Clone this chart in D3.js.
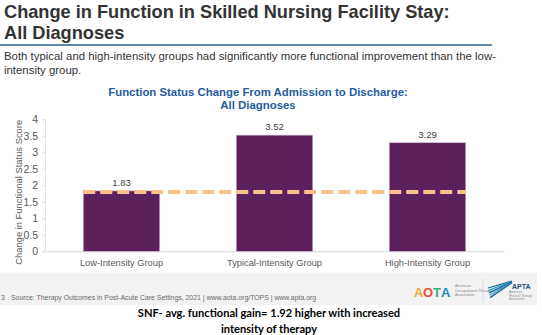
<!DOCTYPE html>
<html><head><meta charset="utf-8">
<script src="https://cdn.jsdelivr.net/npm/d3@7"></script>
<style>
html,body{margin:0;padding:0;background:#fff;}
svg{display:block;}
</style></head>
<body>
<script>
const categories = ["Low-Intensity Group", "Typical-Intensity Group", "High-Intensity Group"];
const values = [1.83, 3.52, 3.29];
const valueLabels = ["1.83", "3.52", "3.29"];
const referenceLine = [1.8];
const yTicks = [0, 0.5, 1, 1.5, 2, 2.5, 3, 3.5, 4];
const yTickLabels = ["0", "0.5", "1", "1.5", "2", "2.5", "3", "3.5", "4"];
const titleLines = ["Change in Function in Skilled Nursing Facility Stay:", "All Diagnoses"];
const subtitleLines = ["Both typical and high-intensity groups had significantly more functional improvement than the low-", "intensity group."];
const chartTitleLines = ["Function Status Change From Admission to Discharge:", "All Diagnoses"];
const yAxisTitle = "Change in Functional Status Score";
const sourceText = "Source: Therapy Outcomes in Post-Acute Care Settings, 2021 | www.aota.org/TOPS | www.apta.org";
const slideNumber = "3";
const captionLines = ["SNF- avg. functional gain= 1.92 higher with increased", "intensity of therapy"];

const W = 542, H = 335;
const svg = d3.select("body").append("svg").attr("width", W).attr("height", H);
const font = "'Liberation Sans', Arial, sans-serif";

// Title
svg.append("g").selectAll("text").data(titleLines).join("text")
  .attr("x", 4).attr("y", (d, i) => 18 + i * 21)
  .attr("font-family", font).attr("font-weight", "bold").attr("font-size", 18.2)
  .attr("fill", "#333333").text(d => d);
svg.append("line").attr("x1", 0).attr("x2", 492).attr("y1", 45).attr("y2", 45)
  .attr("stroke", "#2c5f92").attr("stroke-width", 1.6);
svg.append("g").selectAll("text").data(subtitleLines).join("text")
  .attr("x", 4).attr("y", (d, i) => 60 + i * 13.5)
  .attr("font-family", font).attr("font-size", 11.4)
  .attr("fill", "#333333").text(d => d);

// Chart title
svg.append("g").selectAll("text").data(chartTitleLines).join("text")
  .attr("x", 258).attr("y", (d, i) => 96 + i * 13)
  .attr("text-anchor", "middle")
  .attr("font-family", font).attr("font-weight", "bold").attr("font-size", 11.4)
  .attr("fill", "#1f5c9c").text(d => d);

// Scales
const x = d3.scaleBand().domain(categories).range([45, 504]).paddingInner(0.5).paddingOuter(0.25);
const y = d3.scaleLinear().domain([0, 4]).range([251.3, 119.3]);

// Axes
const yAxis = d3.axisLeft(y).tickValues(yTicks).tickFormat((d, i) => yTickLabels[i]).tickSize(3).tickPadding(4);
const gy = svg.append("g").attr("transform", "translate(45,0)").call(yAxis);
gy.select(".domain").attr("stroke", "#e3e3e3");
gy.selectAll(".tick line").attr("stroke", "#e3e3e3");
gy.selectAll("text").attr("font-family", font).attr("font-size", 10.5).attr("fill", "#595959");

const xAxis = d3.axisBottom(x).tickSize(0).tickPadding(8);
const gx = svg.append("g").attr("transform", `translate(0,${y(0)})`).call(xAxis);
gx.select(".domain").attr("stroke", "#d9d9d9");
gx.selectAll("text").attr("font-family", font).attr("font-size", 9.3).attr("fill", "#595959");

svg.append("text").attr("transform", `translate(22,${(y(0) + y(4)) / 2 + 7}) rotate(-90)`)
  .attr("text-anchor", "middle").attr("font-family", font).attr("font-size", 9.4)
  .attr("fill", "#595959").text(yAxisTitle);

// Bars
svg.append("g").selectAll("rect").data(values).join("rect")
  .attr("x", (d, i) => x(categories[i])).attr("width", x.bandwidth())
  .attr("y", d => y(d)).attr("height", d => y(0) - y(d))
  .attr("fill", "#5c215c").attr("stroke", "#c9b9cc").attr("stroke-width", 0.6);

svg.append("g").selectAll("text").data(values).join("text")
  .attr("x", (d, i) => x(categories[i]) + x.bandwidth() / 2)
  .attr("y", d => y(d) - 5)
  .attr("text-anchor", "middle").attr("font-family", font).attr("font-size", 9.5)
  .attr("fill", "#404040").text((d, i) => valueLabels[i]);

// Reference dashed line
svg.append("g").selectAll("line").data(referenceLine).join("line")
  .attr("x1", x(categories[0])).attr("x2", x(categories[2]) + x.bandwidth())
  .attr("y1", d => y(d)).attr("y2", d => y(d))
  .attr("stroke", "#fbc08c").attr("stroke-width", 4).attr("stroke-dasharray", "12,5");

// Footer band
svg.append("rect").attr("x", 0).attr("y", 272.5).attr("width", 537).attr("height", 32.5).attr("fill", "#f2f2f2");
svg.append("text").attr("x", 1).attr("y", 300).attr("font-family", font).attr("font-size", 7)
  .attr("fill", "#6b6b6b").text(slideNumber);
svg.append("text").attr("x", 11).attr("y", 300).attr("font-family", font).attr("font-size", 6.9)
  .attr("fill", "#6b6b6b").text(sourceText);

// AOTA logo (approximation)
const aota = svg.append("g").attr("font-family", font).attr("font-weight", "bold").attr("font-size", 13);
[["A", "#f2a93b", 414], ["O", "#e94e3c", 423], ["T", "#3aaa8f", 433], ["A", "#1f8bb5", 441]].forEach(([c, col, xx]) => {
  aota.append("text").attr("x", xx).attr("y", 297).attr("fill", col).text(c);
});
const aotaSmall = ["American", "Occupational Therapy", "Association"];
svg.append("g").selectAll("text").data(aotaSmall).join("text")
  .attr("x", 455).attr("y", (d, i) => 287 + i * 4.5).attr("font-family", font).attr("font-size", 3.8)
  .attr("fill", "#8a8a8a").text(d => d);
svg.append("line").attr("x1", 483).attr("x2", 483).attr("y1", 279).attr("y2", 302).attr("stroke", "#cfcfcf").attr("stroke-width", 0.6);
// APTA logo
const ap = svg.append("g");
[0, 1, 2, 3, 4].forEach(i => {
  ap.append("line").attr("x1", 488 + i * 0.5).attr("y1", 288 + i * 2.4).attr("x2", 512).attr("y2", 281 + i * 0.4)
    .attr("stroke", i % 2 ? "#2aa1cf" : "#1f5f8f").attr("stroke-width", 1.3);
});
svg.append("text").attr("x", 512).attr("y", 289).attr("font-family", font).attr("font-weight", "bold")
  .attr("font-size", 7).attr("fill", "#1f4e79").text("APTA");
svg.append("g").selectAll("text").data(["American", "Physical Therapy", "Association"]).join("text")
  .attr("x", 509).attr("y", (d, i) => 293 + i * 3.5).attr("font-family", font).attr("font-size", 3)
  .attr("fill", "#8a8a8a").text(d => d);

// Caption
svg.append("g").selectAll("text").data(captionLines).join("text")
  .attr("x", 269).attr("y", (d, i) => 317 + i * 16)
  .attr("text-anchor", "middle").attr("font-family", "Lato, 'Open Sans', sans-serif").attr("font-weight", "bold")
  .attr("font-size", 11.1).attr("fill", "#000").text(d => d);
</script>
</body></html>
